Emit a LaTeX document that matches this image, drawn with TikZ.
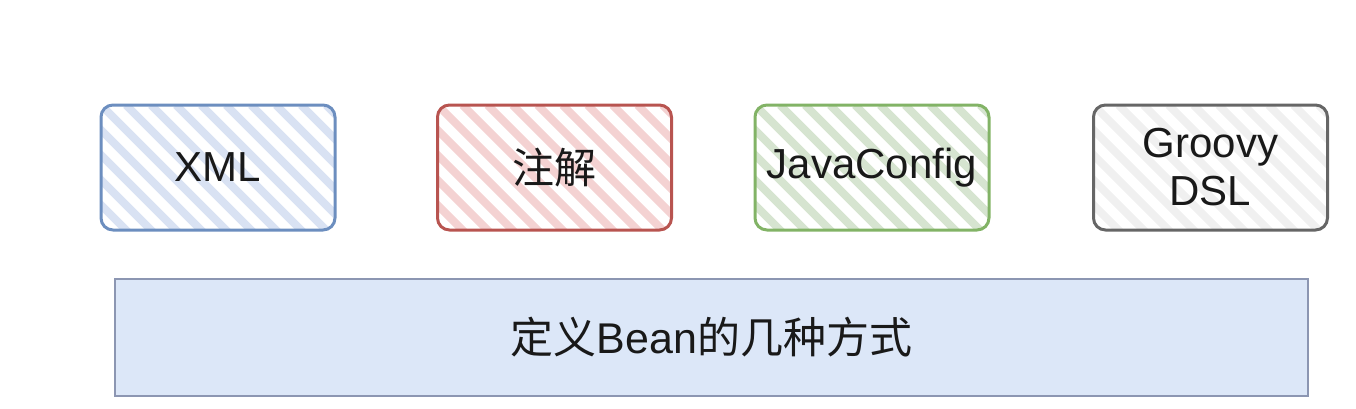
\documentclass[tikz,border=0pt]{standalone}
\usepackage{xcolor}
\usepackage{fontspec}
\usepackage{tikz}
\setmainfont{Liberation Sans}
\newfontfamily\cjk{Noto Sans CJK SC}

\definecolor{blueline}{HTML}{6C8EBF}
\definecolor{bluehatch}{HTML}{D9E2F3}
\definecolor{redline}{HTML}{B85450}
\definecolor{redhatch}{HTML}{F4D2D2}
\definecolor{greenline}{HTML}{82B366}
\definecolor{greenhatch}{HTML}{D6E4D0}
\definecolor{grayline}{HTML}{666666}
\definecolor{grayhatch}{HTML}{F0F0F0}
\definecolor{basefill}{HTML}{DCE7F8}
\definecolor{baseline}{HTML}{8C96B2}

\tikzset{
    hatch/.style={path picture={
        \foreach \k in {0,...,18}
            \draw[#1, line width=4pt]
                ([xshift=\k*12.5pt-75pt]path picture bounding box.north west) -- ++(80pt,-80pt);
    }},
    waybox/.style n args={2}{draw=#1, line width=1.5pt, rounded corners=6pt,
        hatch=#2, minimum width=117pt, minimum height=62.5pt,
        align=center, font=\fontsize{21}{24}\selectfont, text=black!90},
}

\begin{document}
\begin{tikzpicture}[x=0.5pt,y=-0.5pt]

        % Canvas
        \useasboundingbox (0,0) rectangle (1356,408);

        % Ways
        \node[waybox={blueline}{bluehatch}] (xml) at (218,167.5) {XML};
        \node[waybox={redline}{redhatch}] (anno) at (554.5,167.5) {\cjk 注解};
        \node[waybox={greenline}{greenhatch}] (javacfg) at (872,167.5) {JavaConfig};
        \node[waybox={grayline}{grayhatch}] (groovy) at (1210.5,167.5) {Groovy\\DSL};

        % Base
        \node[draw=baseline, fill=basefill, line width=1pt,
            minimum width=596.5pt, minimum height=58.5pt,
            font=\fontsize{21.5}{24}\selectfont, text=black!90]
            (base) at (711.5,337.5) {{\cjk 定义}Bean{\cjk 的几种方式}};

\end{tikzpicture}
\end{document}
